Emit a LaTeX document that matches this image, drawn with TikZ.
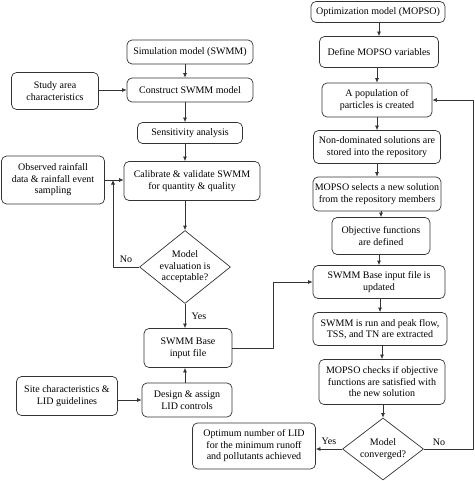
\documentclass[tikz,border=0pt]{standalone}
\usepackage{fontspec}
\setmainfont{Liberation Serif}
\newfontfamily\timesfont{Liberation Serif}
\usetikzlibrary{arrows.meta,shapes.geometric}
\begin{document}
\begin{tikzpicture}[x=1pt,y=-1pt,line join=round,>={Latex[length=4.5pt,width=4pt]},line width=0.7pt,draw=black!80]
\tikzset{box/.style={draw=black!80,rounded corners=5pt,align=center,inner sep=1pt,font=\timesfont\fontsize{10}{11.5}\selectfont},
	decision/.style={draw=black!80,diamond,align=center,inner sep=0pt,font=\timesfont\fontsize{10}{11.5}\selectfont},
	label style/.style={font=\timesfont\fontsize{10}{11.5}\selectfont}}
\useasboundingbox (0,0) rectangle (474,481);
\node[box,minimum width=126,minimum height=24] (sim) at (190,52) {Simulation model (SWMM)};
\node[box,minimum width=126,minimum height=24] (cons) at (190,90) {Construct SWMM model};
\node[box,minimum width=87,minimum height=37] (study) at (55,91) {Study area\\characteristics};
\node[box,minimum width=105,minimum height=21] (sens) at (190,133) {Sensitivity analysis};
\node[box,minimum width=136,minimum height=39] (calib) at (192,181) {Calibrate \& validate SWMM\\for quantity \& quality};
\node[box,minimum width=103,minimum height=48] (obs) at (53,180) {Observed rainfall\\data \& rainfall event\\sampling};
\node[decision,shape aspect=1.25,minimum width=90,minimum height=73] (dia1) at (185,267) {Model\\evaluation is\\acceptable?};
\node[box,minimum width=88,minimum height=39] (base) at (188,348) {SWMM Base\\input file};
\node[box,minimum width=90,minimum height=34] (design) at (187,400) {Design \& assign\\LID controls};
\node[box,minimum width=101,minimum height=39] (site) at (67,396) {Site characteristics \&\\LID guidelines};
\node[box,minimum width=123,minimum height=46] (optimum) at (254,446) {Optimum number of LID\\for the minimum runoff\\and pollutants achieved};
\node[box,minimum width=134,minimum height=21] (opt) at (378,12) {Optimization model (MOPSO)};
\node[box,minimum width=119,minimum height=31] (def) at (379,52) {Define MOPSO variables};
\node[box,minimum width=110,minimum height=34] (pop) at (377,100) {A population of\\particles is created};
\node[box,minimum width=127,minimum height=33] (nondom) at (377,147) {Non-dominated solutions are\\stored into the repository};
\node[box,minimum width=128,minimum height=34] (select) at (377,194) {MOPSO selects a new solution\\from the repository members};
\node[box,minimum width=98,minimum height=37] (obj) at (381,236) {Objective functions\\are defined};
\node[box,minimum width=132,minimum height=33] (upd) at (379,282) {SWMM Base input file is\\updated};
\node[box,minimum width=134,minimum height=33] (run) at (380,329) {SWMM is run and peak flow,\\TSS, and TN are extracted};
\node[box,minimum width=126,minimum height=45] (check) at (382,382) {MOPSO checks if objective\\functions are satisfied with\\the new solution};
\node[decision,shape aspect=1.3,minimum width=81,minimum height=62] (dia2) at (383,449) {Model\\converged?};
\coordinate (noj) at (113,180);
\foreach \a/\b in {sim/cons,cons/sens,sens/calib,calib/dia1}
	\draw[->] (\a.south -| dia1) -- (\b.north -| dia1);
\foreach \a/\b in {opt/def,def/pop,pop/nondom,nondom/select,select/obj,obj/upd,upd/run,run/check,check/dia2}
	\draw[->] (\a.south -| \b) -- (\b.north);
\draw[->] (study.east |- cons) -- (cons.west);
\draw[->] (obs.east) -- (obs.east -| calib.west);
\draw[->] (dia1.west) -| (noj);
\draw (126,259) node[label style] {No};
\draw[->] (dia1.south) -- (dia1.south |- base.north) node[label style,midway,right=3pt] {Yes};
\draw[->] (design.north -| dia1) -- (base.south -| dia1);
\draw[->] (site.east |- design) -- (design.west);
\draw[->] (base.east) -- ++(41,0) |- (upd.west);
\draw[->] (dia2.west) -- (dia2.west -| optimum.east) node[label style,midway,above=1pt] {Yes};
\draw[->] (dia2.east) -- ++(49,0) |- (pop.east);
\draw (439,442) node[label style] {No};
\end{tikzpicture}
\end{document}
